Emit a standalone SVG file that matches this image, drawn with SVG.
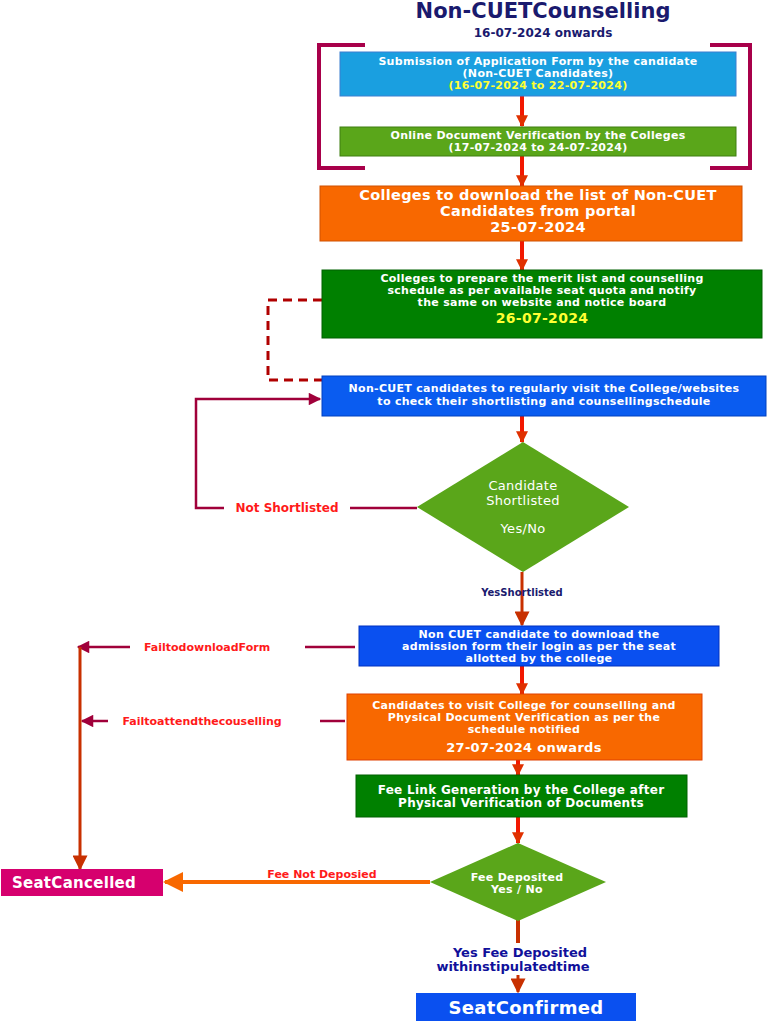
<svg xmlns="http://www.w3.org/2000/svg" width="768" height="1024" viewBox="0 0 768 1024">
<defs>
<style>
text{font-family:"DejaVu Sans","Liberation Sans",sans-serif;font-weight:bold;text-anchor:middle}
.w{fill:#fff;font-size:11px;letter-spacing:0.3px}
.y{fill:#ffff33}
.r{fill:#ff1a1a;font-size:12px}
.n{fill:#1a1a6e}
.flow{stroke:#f21800;stroke-width:4;fill:none;marker-end:url(#ah)}
.br{stroke:#a8004a;stroke-width:4;fill:none}
.fl{stroke:#a0003a;stroke-width:2.5;fill:none}
</style>
<marker id="ah" viewBox="0 0 10 10" refX="9" refY="5" markerWidth="4" markerHeight="3" orient="auto" markerUnits="strokeWidth"><path d="M0,0L10,5L0,10z" fill="#e03000"/></marker>
<marker id="ah2" viewBox="0 0 10 10" refX="9" refY="5" markerWidth="6" markerHeight="5" orient="auto" markerUnits="strokeWidth"><path d="M0,0L10,5L0,10z" fill="#a0003a"/></marker>
<marker id="ah3" viewBox="0 0 10 10" refX="9" refY="5" markerWidth="6" markerHeight="5" orient="auto" markerUnits="strokeWidth"><path d="M0,0L10,5L0,10z" fill="#c83000"/></marker>
<marker id="ah4" viewBox="0 0 10 10" refX="9" refY="5" markerWidth="7" markerHeight="5" orient="auto" markerUnits="strokeWidth"><path d="M0,0L10,5L0,10z" fill="#f86800"/></marker>
</defs>
<rect width="768" height="1024" fill="#fff"/>
<text x="543" y="18" class="n" style="font-size:21px">Non-CUETCounselling</text>
<text x="543" y="37" class="n" style="font-size:12px">16-07-2024 onwards</text>
<g id="connectors">
<path class="br" d="M365,45H319V168H365M710,45H750V168H710"/>
<line class="flow" x1="522" y1="96" x2="522" y2="126"/>
<line class="flow" x1="522" y1="156" x2="522" y2="186"/>
<line class="flow" x1="522" y1="241" x2="522" y2="270"/>
<path d="M322,300H268V380H322" stroke="#b00000" stroke-width="3" stroke-dasharray="9,6" fill="none"/>
<line class="flow" x1="522" y1="416" x2="522" y2="442"/>
<path class="fl" d="M417,508H196V399H320" marker-end="url(#ah2)"/>
<line x1="522" y1="572" x2="522" y2="625" stroke="#c83000" stroke-width="3" marker-end="url(#ah3)"/>
<line class="flow" x1="522" y1="666" x2="522" y2="694"/>
<line class="flow" x1="518" y1="760" x2="518" y2="775"/>
<line class="flow" x1="518" y1="817" x2="518" y2="843"/>
<line class="fl" x1="355" y1="647" x2="305" y2="647"/>
<line class="fl" x1="130" y1="647" x2="78" y2="647" marker-end="url(#ah2)"/>
<line class="fl" x1="345" y1="721" x2="320" y2="721"/>
<line class="fl" x1="108" y1="721" x2="82" y2="721" marker-end="url(#ah2)"/>
<line x1="80" y1="647" x2="80" y2="869" stroke="#c83000" stroke-width="3" marker-end="url(#ah3)"/>
<line x1="430" y1="882" x2="165" y2="882" stroke="#f86800" stroke-width="4" marker-end="url(#ah4)"/>
<line x1="518" y1="920" x2="518" y2="943" stroke="#c83000" stroke-width="4"/>
<line x1="518" y1="975" x2="518" y2="992" stroke="#c83000" stroke-width="3" marker-end="url(#ah3)"/>
</g>
<g id="n1"><rect x="340" y="52" width="396" height="44" fill="#1a9fe0" stroke="#3a7fd0"/>
<text x="538" y="65" class="w">Submission of Application Form by the candidate</text>
<text x="538" y="77" class="w">(Non-CUET Candidates)</text>
<text x="538" y="89" class="w y">(16-07-2024 to 22-07-2024)</text></g>
<g id="n2"><rect x="340" y="127" width="396" height="29" fill="#5aa61a" stroke="#3f7f10"/>
<text x="538" y="139" class="w">Online Document Verification by the Colleges</text>
<text x="538" y="151" class="w">(17-07-2024 to 24-07-2024)</text></g>
<g id="n3"><rect x="320" y="186" width="422" height="55" fill="#f86800" stroke="#d05000"/>
<text x="538" y="200" class="w" style="font-size:14.5px">Colleges to download the list of Non-CUET</text>
<text x="538" y="216" class="w" style="font-size:14.5px">Candidates from portal</text>
<text x="538" y="232" class="w" style="font-size:14.5px">25-07-2024</text></g>
<g id="n4"><rect x="322" y="270" width="440" height="68" fill="#008000" stroke="#006000"/>
<text x="542" y="282" class="w">Colleges to prepare the merit list and counselling</text>
<text x="542" y="294" class="w">schedule as per available seat quota and notify</text>
<text x="542" y="306" class="w">the same on website and notice board</text>
<text x="542" y="323" class="w y" style="font-size:14px">26-07-2024</text></g>
<g id="n5"><rect x="322" y="376" width="444" height="40" fill="#0a5cf0" stroke="#0040c0"/>
<text x="544" y="392" class="w">Non-CUET candidates to regularly visit the College/websites</text>
<text x="544" y="405" class="w">to check their shortlisting and counsellingschedule</text></g>
<g id="d1"><path d="M523,442L629,507L523,572L417,507z" fill="#5aa61a"/>
<text x="523" y="490" class="w" style="font-size:13px;font-weight:normal">Candidate</text>
<text x="523" y="505" class="w" style="font-size:13px;font-weight:normal">Shortlisted</text>
<text x="523" y="533" class="w" style="font-size:13px;font-weight:normal">Yes/No</text></g>
<rect x="224" y="502" width="126" height="13" fill="#fff"/>
<text x="287" y="512" class="r">Not Shortlisted</text>
<text x="522" y="596" class="n" style="font-size:10px">YesShortlisted</text>
<g id="n6"><rect x="359" y="626" width="360" height="40" fill="#0a50f0" stroke="#0030c0"/>
<text x="539" y="638" class="w">Non CUET candidate to download the</text>
<text x="539" y="650" class="w">admission form their login as per the seat</text>
<text x="539" y="662" class="w">allotted by the college</text></g>
<text x="207" y="651" class="r" style="font-size:11px">FailtodownloadForm</text>
<g id="n7"><rect x="347" y="694" width="355" height="66" fill="#f86800" stroke="#e04000"/>
<text x="524" y="709" class="w">Candidates to visit College for counselling and</text>
<text x="524" y="721" class="w">Physical Document Verification as per the</text>
<text x="524" y="733" class="w">schedule notified</text>
<text x="524" y="752" class="w" style="font-size:13px">27-07-2024 onwards</text></g>
<text x="202" y="725" class="r" style="font-size:11px">Failtoattendthecouselling</text>
<g id="n8"><rect x="356" y="775" width="331" height="42" fill="#008000" stroke="#006000"/>
<text x="521" y="794" class="w" style="font-size:12px">Fee Link Generation by the College after</text>
<text x="521" y="807" class="w" style="font-size:12px">Physical Verification of Documents</text></g>
<g id="d2"><path d="M518,843L606,882L518,921L430,882z" fill="#5aa61a"/>
<text x="517" y="881" class="w">Fee Deposited</text>
<text x="517" y="893" class="w">Yes / No</text></g>
<text x="322" y="878" class="r" style="font-size:11px">Fee Not Deposied</text>
<g id="sc"><rect x="1" y="869" width="162" height="27" fill="#d6006e"/>
<text x="74" y="888" class="w" style="font-size:15px">SeatCancelled</text></g>
<text x="520" y="957" class="n" style="font-size:13px;fill:#10109a">Yes Fee Deposited</text>
<text x="513" y="971" class="n" style="font-size:13px;fill:#10109a">withinstipulatedtime</text>
<g id="cf"><rect x="416" y="993" width="220" height="28" fill="#0a50f0"/>
<text x="526" y="1014" class="w" style="font-size:18px">SeatConfirmed</text></g>
</svg>
